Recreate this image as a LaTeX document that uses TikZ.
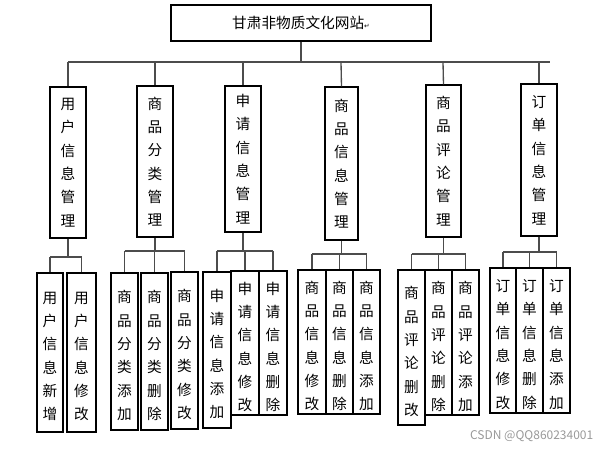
\documentclass[tikz,border=0pt]{standalone}
\usepackage{fontspec}
\setmainfont{Noto Sans CJK SC}
\begin{document}
\begin{tikzpicture}[x=0.75pt,y=-0.75pt,
  bx/.style={draw,line width=0.8pt,inner sep=0pt,align=center},
  vt/.style={align=center,font=\fontsize{11}{17.5}\selectfont},
  ln/.style={line width=1pt,draw=black!70}]
\useasboundingbox (0,0) rectangle (611,453);
\newcommand\bxat[5]{\node[bx,minimum width={(#3-#2)*0.75pt},minimum height={(#5-#4)*0.75pt}] (#1) at ({(#2+#3)/2},{(#4+#5)/2}) {};}
% top
\bxat{top}{171}{431}{5}{41}
\node[font=\fontsize{11}{12}\selectfont] at (top) {甘肃非物质文化网站{\fontspec{DejaVu Sans}\tiny↵}};
% level 2
\bxat{a}{50}{86}{87}{238}
\bxat{b}{137}{173}{86}{237}
\bxat{c}{225}{261}{86}{232}
\bxat{d}{325}{358}{87}{240}
\bxat{e}{426}{461}{85}{237}
\bxat{f}{521}{557}{84}{236}
\foreach \n/\t in {a/用\\户\\信\\息\\管\\理,b/商\\品\\分\\类\\管\\理,c/申\\请\\信\\息\\管\\理,d/商\\品\\信\\息\\管\\理,e/商\\品\\评\\论\\管\\理,f/订\\单\\信\\息\\管\\理}
  \node[vt] at (\n) {\t};
% bus
\coordinate (bt) at (301,62);
\draw[ln] (top.south) -- (bt);
\draw[ln] (68,62) -- (550,62);
\foreach \n/\x in {a/68,b/155,c/243,d/341,e/443,f/539}
  \draw[ln] (\x,62) -- (\n.north);
% level 3
\newcommand\leaf[6]{\bxat{#1}{#2}{#3}{#4}{#5}\node[vt] at ([yshift=-3pt]#1.center) {#6};}
\leaf{a1}{37}{63}{273}{432}{用\\户\\信\\息\\新\\增}
\leaf{a2}{67}{96}{273}{432}{用\\户\\信\\息\\修\\改}
\leaf{b1}{111}{138}{273}{430}{商\\品\\分\\类\\添\\加}
\leaf{b2}{141}{168}{273}{430}{商\\品\\分\\类\\删\\除}
\leaf{b3}{171}{198}{272}{429}{商\\品\\分\\类\\修\\改}
\leaf{c1}{203}{231}{272}{428}{申\\请\\信\\息\\添\\加}
\leaf{c2}{231}{259}{271}{415}{申\\请\\信\\息\\修\\改}
\leaf{c3}{259}{287}{271}{415}{申\\请\\信\\息\\删\\除}
\leaf{d1}{298}{326}{270}{414}{商\\品\\信\\息\\修\\改}
\leaf{d2}{326}{353}{270}{414}{商\\品\\信\\息\\删\\除}
\leaf{d3}{353}{380}{270}{414}{商\\品\\信\\息\\添\\加}
\leaf{e1}{398}{425}{270}{425}{商\\品\\评\\论\\删\\改}
\leaf{e2}{425}{452}{270}{415}{商\\品\\评\\论\\删\\除}
\leaf{e3}{452}{479}{270}{415}{商\\品\\评\\论\\添\\加}
\leaf{f1}{490}{516}{268}{413}{订\\单\\信\\息\\修\\改}
\leaf{f2}{516}{543}{268}{413}{订\\单\\信\\息\\删\\除}
\leaf{f3}{543}{570}{268}{413}{订\\单\\信\\息\\添\\加}
% group buses
\foreach \p/\y/\l/\r/\kids in {a/257/a1/a2/{a1,a2},b/251/b1/b3/{b1,b2,b3},c/251/c1/c3/{c1,c2,c3},d/254/d1/d3/{d1,d2,d3},e/254/e1/e3/{e1,e2,e3},f/252/f1/f3/{f1,f2,f3}}{
  \draw[ln] (\p.south) -- (\p.south |- 0,\y);
  \draw[ln] (\l.north |- 0,\y) -- (\r.north |- 0,\y);
  \foreach \k in \kids \draw[ln] (\k.north |- 0,\y) -- (\k.north);
}
\node[anchor=east,font=\fontsize{9}{10}\selectfont,text=black!40] at (598,436) {CSDN @QQ860234001};
\end{tikzpicture}
\end{document}
